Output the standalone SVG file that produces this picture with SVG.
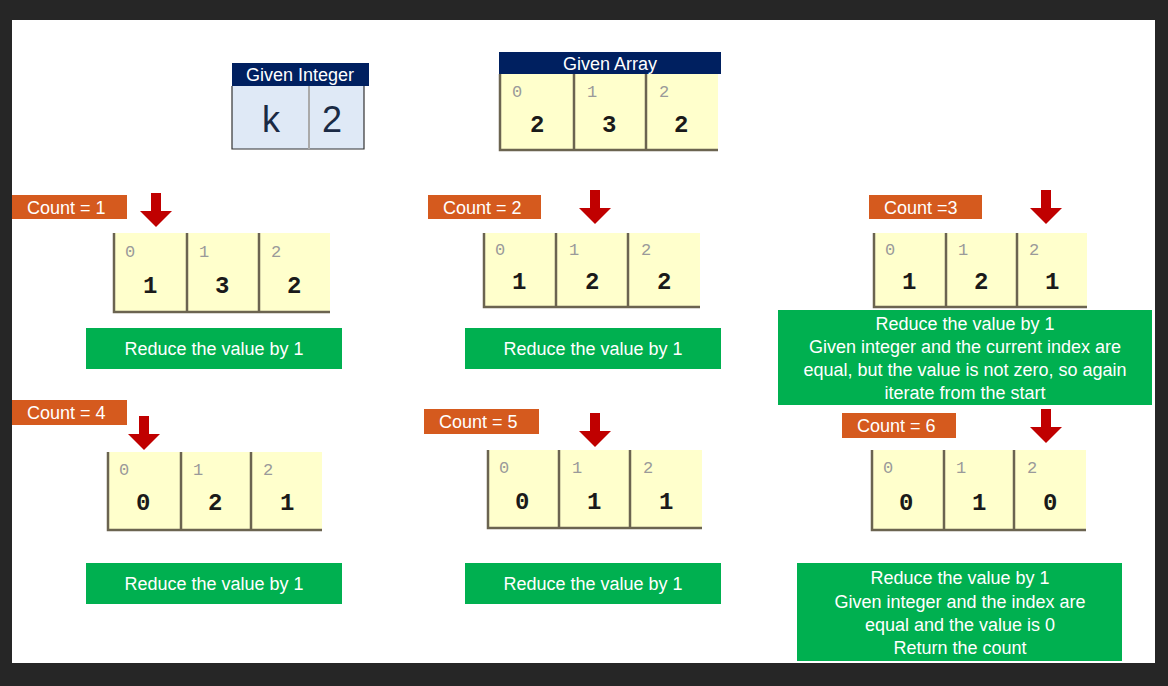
<svg xmlns="http://www.w3.org/2000/svg" width="1168" height="686" viewBox="0 0 1168 686">
<defs>
<style>
text{font-family:"Liberation Sans",Arial,sans-serif}
.cell{fill:#ffffcc}
.ln{stroke:#6b6450;stroke-width:2.5;fill:none}
.idx{font-family:"Liberation Mono",monospace;font-size:17px;fill:#9a9a9a}
.val{font-family:"Liberation Mono",monospace;font-size:24px;fill:#1a1a1a;font-weight:bold}
.cnt{fill:#d55a1e}
.ct{fill:#fff;font-size:18px}
.grn{fill:#00b050}
.gt{fill:#fff;font-size:18px;text-anchor:middle}
.arr{fill:#c00000}
.hdr{fill:#002060}
.ht{fill:#fff;font-size:18px;text-anchor:middle}
</style>
<path id="arrow" d="M-5,0 H5 V18 H16 L0,34 L-16,18 H-5 Z"/>
</defs>
<rect width="1168" height="686" fill="#262626"/>
<rect x="12" y="20" width="1143" height="643" fill="#fff"/>

<g id="given-integer">
<rect class="hdr" x="232" y="63" width="137" height="23"/>
<text class="ht" x="300" y="81">Given Integer</text>
<rect x="232" y="86" width="132" height="63" fill="#dfe9f6"/>
<path d="M232,86 V149 H364 V86" stroke="#333" stroke-width="1.2" fill="none"/>
<line x1="309" y1="86" x2="309" y2="149" stroke="#aaa" stroke-width="2"/>
<text x="271" y="132" font-size="36" fill="#1a2a44" text-anchor="middle">k</text>
<text x="332" y="132" font-size="36" fill="#1a2a44" text-anchor="middle">2</text>
</g>

<g id="given-array">
<rect class="hdr" x="499" y="52" width="222" height="22"/>
<text class="ht" x="610" y="70">Given Array</text>
<rect class="cell" x="499" y="74" width="219" height="76"/>
<path class="ln" d="M500,74 V150 H718 M574,74 V150 M646,74 V150"/>
<text class="idx" x="512" y="97">0</text><text class="idx" x="587" y="97">1</text><text class="idx" x="659" y="97">2</text>
<text class="val" x="530" y="132">2</text><text class="val" x="602" y="132">3</text><text class="val" x="674" y="132">2</text>
</g>

<g id="step1">
<rect class="cnt" x="12" y="195" width="115" height="24"/><text class="ct" x="27" y="214">Count = 1</text>
<use href="#arrow" class="arr" x="156" y="193"/>
<rect class="cell" x="113" y="233" width="217" height="79"/>
<path class="ln" d="M114,233 V312 H330 M187,233 V312 M259,233 V312"/>
<text class="idx" x="125" y="257">0</text><text class="idx" x="199" y="257">1</text><text class="idx" x="271" y="257">2</text>
<text class="val" x="143" y="293">1</text><text class="val" x="215" y="293">3</text><text class="val" x="287" y="293">2</text>
<rect class="grn" x="86" y="328" width="256" height="41"/><text class="gt" x="214" y="355">Reduce the value by 1</text>
</g>

<g id="step2">
<rect class="cnt" x="428" y="195" width="113" height="24"/><text class="ct" x="443" y="214">Count = 2</text>
<use href="#arrow" class="arr" x="595" y="190"/>
<rect class="cell" x="483" y="233" width="217" height="74"/>
<path class="ln" d="M484,233 V307 H700 M556,233 V307 M628,233 V307"/>
<text class="idx" x="495" y="255">0</text><text class="idx" x="569" y="255">1</text><text class="idx" x="641" y="255">2</text>
<text class="val" x="512" y="289">1</text><text class="val" x="585" y="289">2</text><text class="val" x="657" y="289">2</text>
<rect class="grn" x="465" y="328" width="256" height="41"/><text class="gt" x="593" y="355">Reduce the value by 1</text>
</g>

<g id="step3">
<rect class="cnt" x="869" y="195" width="113" height="24"/><text class="ct" x="884" y="214">Count =3</text>
<use href="#arrow" class="arr" x="1046" y="190"/>
<rect class="cell" x="873" y="233" width="214" height="74"/>
<path class="ln" d="M874,233 V307 H1087 M946,233 V307 M1017,233 V307"/>
<text class="idx" x="885" y="255">0</text><text class="idx" x="958" y="255">1</text><text class="idx" x="1029" y="255">2</text>
<text class="val" x="902" y="289">1</text><text class="val" x="974" y="289">2</text><text class="val" x="1045" y="289">1</text>
<rect class="grn" x="778" y="310" width="374" height="95"/>
<text class="gt" x="965" y="330">Reduce the value by 1</text>
<text class="gt" x="965" y="353">Given integer and the current index are</text>
<text class="gt" x="965" y="376">equal, but the value is not zero, so again</text>
<text class="gt" x="965" y="399">iterate from the start</text>
</g>

<g id="step4">
<rect class="cnt" x="12" y="400" width="115" height="25"/><text class="ct" x="27" y="419">Count = 4</text>
<use href="#arrow" class="arr" x="144" y="416"/>
<rect class="cell" x="107" y="452" width="215" height="78"/>
<path class="ln" d="M108,452 V530 H322 M181,452 V530 M251,452 V530"/>
<text class="idx" x="119" y="475">0</text><text class="idx" x="193" y="475">1</text><text class="idx" x="263" y="475">2</text>
<text class="val" x="136" y="510">0</text><text class="val" x="208" y="510">2</text><text class="val" x="280" y="510">1</text>
<rect class="grn" x="86" y="563" width="256" height="41"/><text class="gt" x="214" y="590">Reduce the value by 1</text>
</g>

<g id="step5">
<rect class="cnt" x="424" y="409" width="115" height="25"/><text class="ct" x="439" y="428">Count = 5</text>
<use href="#arrow" class="arr" x="595" y="413"/>
<rect class="cell" x="487" y="450" width="215" height="78"/>
<path class="ln" d="M488,450 V528 H702 M559,450 V528 M630,450 V528"/>
<text class="idx" x="499" y="473">0</text><text class="idx" x="572" y="473">1</text><text class="idx" x="643" y="473">2</text>
<text class="val" x="515" y="509">0</text><text class="val" x="587" y="509">1</text><text class="val" x="659" y="509">1</text>
<rect class="grn" x="465" y="563" width="256" height="41"/><text class="gt" x="593" y="590">Reduce the value by 1</text>
</g>

<g id="step6">
<rect class="cnt" x="842" y="413" width="114" height="25"/><text class="ct" x="857" y="432">Count = 6</text>
<use href="#arrow" class="arr" x="1046" y="409"/>
<rect class="cell" x="871" y="450" width="215" height="80"/>
<path class="ln" d="M872,450 V530 H1086 M944,450 V530 M1014,450 V530"/>
<text class="idx" x="883" y="473">0</text><text class="idx" x="956" y="473">1</text><text class="idx" x="1027" y="473">2</text>
<text class="val" x="899" y="510">0</text><text class="val" x="972" y="510">1</text><text class="val" x="1043" y="510">0</text>
<rect class="grn" x="797" y="563" width="325" height="98"/>
<text class="gt" x="960" y="584">Reduce the value by 1</text>
<text class="gt" x="960" y="608">Given integer and the index are</text>
<text class="gt" x="960" y="631">equal and the value is 0</text>
<text class="gt" x="960" y="654">Return the count</text>
</g>
<g id="connectors"></g>
</svg>
